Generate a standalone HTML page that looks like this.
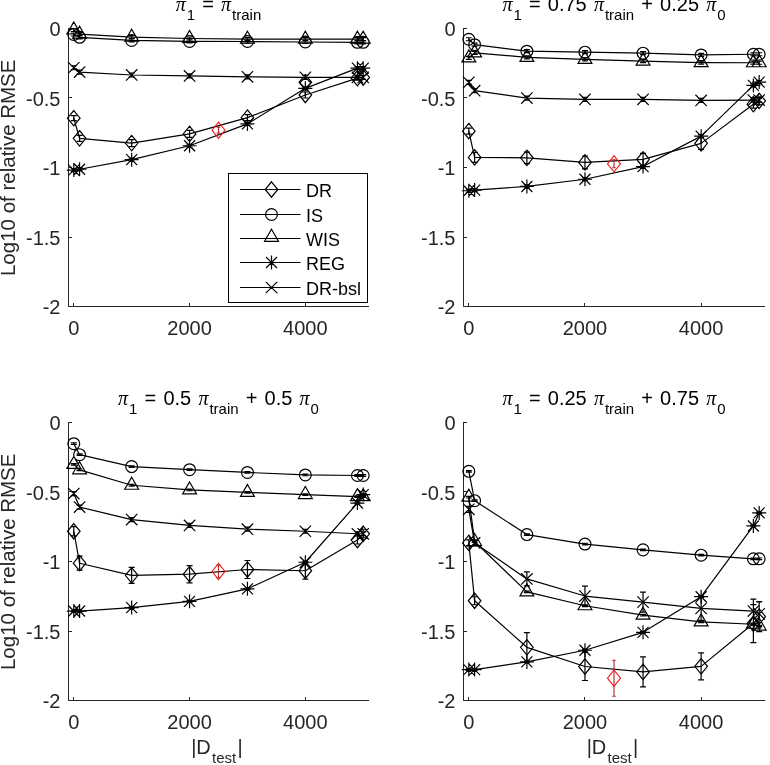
<!DOCTYPE html><html><head><meta charset="utf-8"><style>html,body{margin:0;padding:0;background:#fff;width:770px;height:765px;overflow:hidden}svg{display:block;will-change:transform}text{font-family:"Liberation Sans",sans-serif}</style></head><body>
<svg width="770" height="765" viewBox="0 0 770 765">
<rect width="770" height="765" fill="#fff"/>
<path d="M68.5 28V306.5H369" fill="none" stroke="#262626" stroke-width="1"/>
<path d="M68.5 28.5h3.5M68.5 97.5h3.5M68.5 167.5h3.5M68.5 237.5h3.5M68.5 306.5h3.5M73.5 306.5v-3.5M189.5 306.5v-3.5M305.5 306.5v-3.5" stroke="#262626" stroke-width="1" fill="none"/>
<text x="60.5" y="36.4" font-size="20" fill="#262626" text-anchor="end">0</text>
<text x="60.5" y="105.9" font-size="20" fill="#262626" text-anchor="end">-0.5</text>
<text x="60.5" y="175.4" font-size="20" fill="#262626" text-anchor="end">-1</text>
<text x="60.5" y="244.9" font-size="20" fill="#262626" text-anchor="end">-1.5</text>
<text x="60.5" y="314.4" font-size="20" fill="#262626" text-anchor="end">-2</text>
<text x="73.79" y="335" font-size="20" fill="#262626" text-anchor="middle">0</text>
<text x="189.56" y="335" font-size="20" fill="#262626" text-anchor="middle">2000</text>
<text x="305.33" y="335" font-size="20" fill="#262626" text-anchor="middle">4000</text>
<text x="218.5" y="11" font-size="20" fill="#000" text-anchor="middle" style="word-spacing:1.6px"><tspan font-family="Liberation Serif" font-style="italic" dy="0">π</tspan><tspan font-size="15" dx="1" dy="9.3">1</tspan><tspan dy="-9.3">&#160;=&#160;</tspan><tspan font-family="Liberation Serif" font-style="italic" dy="0">π</tspan><tspan font-size="15" dx="1" dy="9.3">train</tspan></text>
<text transform="translate(15.2 167.8) rotate(-90)" font-size="20.5" fill="#262626" text-anchor="middle">Log10 of relative RMSE</text>
<polyline points="73.79,34.51 79.58,37.3 131.67,40.4 189.56,41.4 247.44,41.5 305.33,42 357.42,42.3 363.21,42.3" fill="none" stroke="#000" stroke-width="1.2" stroke-linejoin="round"/>
<polyline points="73.79,30 79.58,34.2 131.67,37.2 189.56,38.49 247.44,39.2 305.33,39.2 357.42,39.2 363.21,39.2" fill="none" stroke="#000" stroke-width="1.2" stroke-linejoin="round"/>
<polyline points="73.79,170.06 79.58,169.22 131.67,159.63 189.56,145.73 247.44,123.91 305.33,88.33 357.42,68.17 363.21,68.17" fill="none" stroke="#000" stroke-width="1.2" stroke-linejoin="round"/>
<polyline points="73.79,67.75 79.58,72.06 131.67,74.98 189.56,75.95 247.44,76.79 305.33,77.34 357.42,77.34 363.21,77.34" fill="none" stroke="#000" stroke-width="1.2" stroke-linejoin="round"/>
<polyline points="73.79,118.21 79.58,138.37 131.67,143.09 189.56,133.92 247.44,117.66 305.33,95 357.42,78.18 363.21,77.48" fill="none" stroke="#000" stroke-width="1.2" stroke-linejoin="round"/>
<path d="M73.79 115.71V120.71M70.79 115.71H76.79M70.79 120.71H76.79M79.58 135.37V141.37M76.58 135.37H82.58M76.58 141.37H82.58M131.67 139.59V146.59M128.67 139.59H134.67M128.67 146.59H134.67M189.56 130.42V137.42M186.56 130.42H192.56M186.56 137.42H192.56M247.44 114.66V120.66M244.44 114.66H250.44M244.44 120.66H250.44M305.33 92V98M302.33 92H308.33M302.33 98H308.33M357.42 76.18V80.18M354.42 76.18H360.42M354.42 80.18H360.42M363.21 75.48V79.48M360.21 75.48H366.21M360.21 79.48H366.21M73.79 65.75V69.75M70.79 65.75H76.79M70.79 69.75H76.79M79.58 70.06V74.06M76.58 70.06H82.58M76.58 74.06H82.58M131.67 72.98V76.98M128.67 72.98H134.67M128.67 76.98H134.67M189.56 73.95V77.95M186.56 73.95H192.56M186.56 77.95H192.56M247.44 74.79V78.79M244.44 74.79H250.44M244.44 78.79H250.44M305.33 75.34V79.34M302.33 75.34H308.33M302.33 79.34H308.33M357.42 75.34V79.34M354.42 75.34H360.42M354.42 79.34H360.42M363.21 75.34V79.34M360.21 75.34H366.21M360.21 79.34H366.21M73.79 33.01V36.01M70.79 33.01H76.79M70.79 36.01H76.79M79.58 35.8V38.8M76.58 35.8H82.58M76.58 38.8H82.58M131.67 38.9V41.9M128.67 38.9H134.67M128.67 41.9H134.67M189.56 39.9V42.9M186.56 39.9H192.56M186.56 42.9H192.56M247.44 40V43M244.44 40H250.44M244.44 43H250.44M305.33 40.5V43.5M302.33 40.5H308.33M302.33 43.5H308.33M357.42 40.8V43.8M354.42 40.8H360.42M354.42 43.8H360.42M363.21 40.8V43.8M360.21 40.8H366.21M360.21 43.8H366.21M73.79 28.5V31.5M70.79 28.5H76.79M70.79 31.5H76.79M79.58 32.7V35.7M76.58 32.7H82.58M76.58 35.7H82.58M131.67 35.7V38.7M128.67 35.7H134.67M128.67 38.7H134.67M189.56 36.99V39.99M186.56 36.99H192.56M186.56 39.99H192.56M247.44 37.7V40.7M244.44 37.7H250.44M244.44 40.7H250.44M305.33 37.7V40.7M302.33 37.7H308.33M302.33 40.7H308.33M357.42 37.7V40.7M354.42 37.7H360.42M354.42 40.7H360.42M363.21 37.7V40.7M360.21 37.7H366.21M360.21 40.7H366.21M73.79 168.56V171.56M70.79 168.56H76.79M70.79 171.56H76.79M79.58 167.72V170.72M76.58 167.72H82.58M76.58 170.72H82.58M131.67 158.13V161.13M128.67 158.13H134.67M128.67 161.13H134.67M189.56 144.23V147.23M186.56 144.23H192.56M186.56 147.23H192.56M247.44 122.41V125.41M244.44 122.41H250.44M244.44 125.41H250.44M305.33 86.83V89.83M302.33 86.83H308.33M302.33 89.83H308.33M357.42 66.67V69.67M354.42 66.67H360.42M354.42 69.67H360.42M363.21 66.67V69.67M360.21 66.67H366.21M360.21 69.67H366.21" stroke="#000" stroke-width="1.2" fill="none"/>
<path d="M73.79 110.51L80.09 118.21L73.79 125.91L67.49 118.21ZM79.58 130.67L85.88 138.37L79.58 146.07L73.28 138.37ZM131.67 135.39L137.97 143.09L131.67 150.79L125.37 143.09ZM189.56 126.22L195.86 133.92L189.56 141.62L183.26 133.92ZM247.44 109.95L253.74 117.66L247.44 125.36L241.14 117.66ZM305.33 87.3L311.63 95L305.33 102.7L299.03 95ZM357.42 70.48L363.72 78.18L357.42 85.88L351.12 78.18ZM363.21 69.78L369.51 77.48L363.21 85.18L356.91 77.48ZM67.89 34.51a5.9 5.9 0 1 0 11.8 0a5.9 5.9 0 1 0 -11.8 0ZM73.68 37.3a5.9 5.9 0 1 0 11.8 0a5.9 5.9 0 1 0 -11.8 0ZM125.77 40.4a5.9 5.9 0 1 0 11.8 0a5.9 5.9 0 1 0 -11.8 0ZM183.66 41.4a5.9 5.9 0 1 0 11.8 0a5.9 5.9 0 1 0 -11.8 0ZM241.54 41.5a5.9 5.9 0 1 0 11.8 0a5.9 5.9 0 1 0 -11.8 0ZM299.43 42a5.9 5.9 0 1 0 11.8 0a5.9 5.9 0 1 0 -11.8 0ZM351.52 42.3a5.9 5.9 0 1 0 11.8 0a5.9 5.9 0 1 0 -11.8 0ZM357.31 42.3a5.9 5.9 0 1 0 11.8 0a5.9 5.9 0 1 0 -11.8 0ZM73.79 22L80.72 34L66.86 34ZM79.58 26.2L86.51 38.2L72.65 38.2ZM131.67 29.2L138.6 41.2L124.74 41.2ZM189.56 30.49L196.49 42.49L182.63 42.49ZM247.44 31.2L254.37 43.2L240.51 43.2ZM305.33 31.2L312.26 43.2L298.4 43.2ZM357.42 31.2L364.35 43.2L350.49 43.2ZM363.21 31.2L370.14 43.2L356.28 43.2ZM73.79 163.06V177.06M66.79 170.06H80.79M68.29 164.56L79.29 175.56M68.29 175.56L79.29 164.56M79.58 162.22V176.22M72.58 169.22H86.58M74.08 163.72L85.08 174.72M74.08 174.72L85.08 163.72M131.67 152.63V166.63M124.67 159.63H138.67M126.17 154.13L137.17 165.13M126.17 165.13L137.17 154.13M189.56 138.73V152.73M182.56 145.73H196.56M184.06 140.23L195.06 151.23M184.06 151.23L195.06 140.23M247.44 116.91V130.91M240.44 123.91H254.44M241.94 118.41L252.94 129.41M241.94 129.41L252.94 118.41M305.33 81.33V95.33M298.33 88.33H312.33M299.83 82.83L310.83 93.83M299.83 93.83L310.83 82.83M357.42 61.17V75.17M350.42 68.17H364.42M351.92 62.67L362.92 73.67M351.92 73.67L362.92 62.67M363.21 61.17V75.17M356.21 68.17H370.21M357.71 62.67L368.71 73.67M357.71 73.67L368.71 62.67M68.09 62.05L79.49 73.45M68.09 73.45L79.49 62.05M73.88 66.36L85.28 77.76M73.88 77.76L85.28 66.36M125.97 69.28L137.37 80.68M125.97 80.68L137.37 69.28M183.86 70.25L195.26 81.66M183.86 81.66L195.26 70.25M241.74 71.09L253.14 82.49M241.74 82.49L253.14 71.09M299.63 71.64L311.03 83.05M299.63 83.05L311.03 71.64M351.72 71.64L363.12 83.05M351.72 83.05L363.12 71.64M357.51 71.64L368.91 83.05M357.51 83.05L368.91 71.64M305.33 74.51L311.63 82.21L305.33 89.91L299.03 82.21Z" stroke="#000" stroke-width="1.2" fill="none"/>
<path d="M218.5 127.16V133.16M216.7 127.16H220.3M216.7 133.16H220.3" stroke="#b4262e" stroke-width="1.1" fill="none"/>
<path d="M218.5 122.06L225 130.16L218.5 138.26L212 130.16Z" stroke="#ec1c1c" stroke-width="1.1" fill="none"/>
<path d="M463.5 28V306.5H765" fill="none" stroke="#262626" stroke-width="1"/>
<path d="M463.5 28.5h3.5M463.5 97.5h3.5M463.5 167.5h3.5M463.5 237.5h3.5M463.5 306.5h3.5M468.5 306.5v-3.5M584.5 306.5v-3.5M701.5 306.5v-3.5" stroke="#262626" stroke-width="1" fill="none"/>
<text x="455.5" y="36.4" font-size="20" fill="#262626" text-anchor="end">0</text>
<text x="455.5" y="105.9" font-size="20" fill="#262626" text-anchor="end">-0.5</text>
<text x="455.5" y="175.4" font-size="20" fill="#262626" text-anchor="end">-1</text>
<text x="455.5" y="244.9" font-size="20" fill="#262626" text-anchor="end">-1.5</text>
<text x="455.5" y="314.4" font-size="20" fill="#262626" text-anchor="end">-2</text>
<text x="468.81" y="335" font-size="20" fill="#262626" text-anchor="middle">0</text>
<text x="584.96" y="335" font-size="20" fill="#262626" text-anchor="middle">2000</text>
<text x="701.12" y="335" font-size="20" fill="#262626" text-anchor="middle">4000</text>
<text x="614" y="11" font-size="20" fill="#000" text-anchor="middle" style="word-spacing:1.6px"><tspan font-family="Liberation Serif" font-style="italic" dy="0">π</tspan><tspan font-size="15" dx="1" dy="9.3">1</tspan><tspan dy="-9.3">&#160;=&#160;0.75&#160;</tspan><tspan font-family="Liberation Serif" font-style="italic" dy="0">π</tspan><tspan font-size="15" dx="1" dy="9.3">train</tspan><tspan dy="-9.3">&#160;+&#160;0.25&#160;</tspan><tspan font-family="Liberation Serif" font-style="italic" dy="0">π</tspan><tspan font-size="15" dx="1" dy="9.3">0</tspan></text>
<polyline points="468.81,39.26 474.62,44.68 526.88,51.21 584.96,52.19 643.04,53.16 701.12,54.97 753.38,54.27 759.19,54.27" fill="none" stroke="#000" stroke-width="1.2" stroke-linejoin="round"/>
<polyline points="468.81,57.88 474.62,52.88 526.88,57.33 584.96,59.41 643.04,61.22 701.12,62.61 753.38,62.75 759.19,62.75" fill="none" stroke="#000" stroke-width="1.2" stroke-linejoin="round"/>
<polyline points="468.81,190.77 474.62,190.07 526.88,186.46 584.96,179.23 643.04,166.58 701.12,136.14 753.38,85.41 759.19,82.07" fill="none" stroke="#000" stroke-width="1.2" stroke-linejoin="round"/>
<polyline points="468.81,82.35 474.62,90.69 526.88,98.06 584.96,99.45 643.04,99.31 701.12,100.42 753.38,100.14 759.19,100.14" fill="none" stroke="#000" stroke-width="1.2" stroke-linejoin="round"/>
<polyline points="468.81,131.14 474.62,157.41 526.88,157.83 584.96,162.41 643.04,159.35 701.12,143.37 753.38,104.17 759.19,100.84" fill="none" stroke="#000" stroke-width="1.2" stroke-linejoin="round"/>
<path d="M468.81 128.14V134.14M465.81 128.14H471.81M465.81 134.14H471.81M474.62 152.41V162.41M471.62 152.41H477.62M471.62 162.41H477.62M526.88 152.03V163.63M523.88 152.03H529.88M523.88 163.63H529.88M584.96 156.01V168.81M581.96 156.01H587.96M581.96 168.81H587.96M643.04 153.35V165.35M640.04 153.35H646.04M640.04 165.35H646.04M701.12 137.37V149.37M698.12 137.37H704.12M698.12 149.37H704.12M753.38 100.17V108.17M750.38 100.17H756.38M750.38 108.17H756.38M759.19 96.84V104.84M756.19 96.84H762.19M756.19 104.84H762.19M468.81 80.35V84.35M465.81 80.35H471.81M465.81 84.35H471.81M474.62 88.69V92.69M471.62 88.69H477.62M471.62 92.69H477.62M526.88 96.06V100.06M523.88 96.06H529.88M523.88 100.06H529.88M584.96 97.45V101.45M581.96 97.45H587.96M581.96 101.45H587.96M643.04 97.31V101.31M640.04 97.31H646.04M640.04 101.31H646.04M701.12 98.42V102.42M698.12 98.42H704.12M698.12 102.42H704.12M753.38 98.14V102.14M750.38 98.14H756.38M750.38 102.14H756.38M759.19 98.14V102.14M756.19 98.14H762.19M756.19 102.14H762.19M468.81 37.76V40.76M465.81 37.76H471.81M465.81 40.76H471.81M474.62 43.18V46.18M471.62 43.18H477.62M471.62 46.18H477.62M526.88 49.71V52.71M523.88 49.71H529.88M523.88 52.71H529.88M584.96 50.69V53.69M581.96 50.69H587.96M581.96 53.69H587.96M643.04 51.66V54.66M640.04 51.66H646.04M640.04 54.66H646.04M701.12 53.47V56.47M698.12 53.47H704.12M698.12 56.47H704.12M753.38 52.77V55.77M750.38 52.77H756.38M750.38 55.77H756.38M759.19 52.77V55.77M756.19 52.77H762.19M756.19 55.77H762.19M468.81 56.38V59.38M465.81 56.38H471.81M465.81 59.38H471.81M474.62 51.38V54.38M471.62 51.38H477.62M471.62 54.38H477.62M526.88 55.83V58.83M523.88 55.83H529.88M523.88 58.83H529.88M584.96 57.91V60.91M581.96 57.91H587.96M581.96 60.91H587.96M643.04 59.72V62.72M640.04 59.72H646.04M640.04 62.72H646.04M701.12 61.11V64.11M698.12 61.11H704.12M698.12 64.11H704.12M753.38 61.25V64.25M750.38 61.25H756.38M750.38 64.25H756.38M759.19 61.25V64.25M756.19 61.25H762.19M756.19 64.25H762.19M468.81 189.27V192.27M465.81 189.27H471.81M465.81 192.27H471.81M474.62 188.57V191.57M471.62 188.57H477.62M471.62 191.57H477.62M526.88 184.96V187.96M523.88 184.96H529.88M523.88 187.96H529.88M584.96 177.73V180.73M581.96 177.73H587.96M581.96 180.73H587.96M643.04 165.08V168.08M640.04 165.08H646.04M640.04 168.08H646.04M701.12 134.64V137.64M698.12 134.64H704.12M698.12 137.64H704.12M753.38 83.91V86.91M750.38 83.91H756.38M750.38 86.91H756.38M759.19 80.57V83.57M756.19 80.57H762.19M756.19 83.57H762.19" stroke="#000" stroke-width="1.2" fill="none"/>
<path d="M468.81 123.44L475.11 131.14L468.81 138.84L462.51 131.14ZM474.62 149.71L480.92 157.41L474.62 165.11L468.32 157.41ZM526.88 150.13L533.18 157.83L526.88 165.53L520.58 157.83ZM584.96 154.71L591.26 162.41L584.96 170.11L578.66 162.41ZM643.04 151.66L649.34 159.35L643.04 167.05L636.74 159.35ZM701.12 135.67L707.42 143.37L701.12 151.07L694.82 143.37ZM753.38 96.47L759.68 104.17L753.38 111.87L747.08 104.17ZM759.19 93.14L765.49 100.84L759.19 108.54L752.89 100.84ZM462.91 39.26a5.9 5.9 0 1 0 11.8 0a5.9 5.9 0 1 0 -11.8 0ZM468.72 44.68a5.9 5.9 0 1 0 11.8 0a5.9 5.9 0 1 0 -11.8 0ZM520.98 51.21a5.9 5.9 0 1 0 11.8 0a5.9 5.9 0 1 0 -11.8 0ZM579.06 52.19a5.9 5.9 0 1 0 11.8 0a5.9 5.9 0 1 0 -11.8 0ZM637.14 53.16a5.9 5.9 0 1 0 11.8 0a5.9 5.9 0 1 0 -11.8 0ZM695.22 54.97a5.9 5.9 0 1 0 11.8 0a5.9 5.9 0 1 0 -11.8 0ZM747.48 54.27a5.9 5.9 0 1 0 11.8 0a5.9 5.9 0 1 0 -11.8 0ZM753.29 54.27a5.9 5.9 0 1 0 11.8 0a5.9 5.9 0 1 0 -11.8 0ZM468.81 49.88L475.74 61.88L461.88 61.88ZM474.62 44.88L481.54 56.88L467.69 56.88ZM526.88 49.33L533.81 61.33L519.96 61.33ZM584.96 51.41L591.89 63.41L578.03 63.41ZM643.04 53.22L649.97 65.22L636.11 65.22ZM701.12 54.61L708.04 66.61L694.19 66.61ZM753.38 54.75L760.31 66.75L746.46 66.75ZM759.19 54.75L766.12 66.75L752.26 66.75ZM468.81 183.77V197.77M461.81 190.77H475.81M463.31 185.27L474.31 196.27M463.31 196.27L474.31 185.27M474.62 183.07V197.07M467.62 190.07H481.62M469.12 184.57L480.12 195.57M469.12 195.57L480.12 184.57M526.88 179.46V193.46M519.88 186.46H533.88M521.38 180.96L532.38 191.96M521.38 191.96L532.38 180.96M584.96 172.23V186.23M577.96 179.23H591.96M579.46 173.73L590.46 184.73M579.46 184.73L590.46 173.73M643.04 159.58V173.58M636.04 166.58H650.04M637.54 161.08L648.54 172.08M637.54 172.08L648.54 161.08M701.12 129.14V143.14M694.12 136.14H708.12M695.62 130.64L706.62 141.64M695.62 141.64L706.62 130.64M753.38 78.41V92.41M746.38 85.41H760.38M747.88 79.91L758.88 90.91M747.88 90.91L758.88 79.91M759.19 75.07V89.07M752.19 82.07H766.19M753.69 76.57L764.69 87.57M753.69 87.57L764.69 76.57M463.11 76.65L474.51 88.05M463.11 88.05L474.51 76.65M468.92 84.99L480.32 96.39M468.92 96.39L480.32 84.99M521.18 92.36L532.58 103.76M521.18 103.76L532.58 92.36M579.26 93.75L590.66 105.15M579.26 105.15L590.66 93.75M637.34 93.61L648.74 105.01M637.34 105.01L648.74 93.61M695.42 94.72L706.82 106.12M695.42 106.12L706.82 94.72M747.68 94.44L759.08 105.84M747.68 105.84L759.08 94.44M753.49 94.44L764.89 105.84M753.49 105.84L764.89 94.44" stroke="#000" stroke-width="1.2" fill="none"/>
<path d="M614 159.8V167.8M612.2 159.8H615.8M612.2 167.8H615.8" stroke="#b4262e" stroke-width="1.1" fill="none"/>
<path d="M614 155.7L620.5 163.8L614 171.9L607.5 163.8Z" stroke="#ec1c1c" stroke-width="1.1" fill="none"/>
<path d="M68.5 422V700.5H369" fill="none" stroke="#262626" stroke-width="1"/>
<path d="M68.5 422.5h3.5M68.5 491.5h3.5M68.5 561.5h3.5M68.5 631.5h3.5M68.5 700.5h3.5M73.5 700.5v-3.5M189.5 700.5v-3.5M305.5 700.5v-3.5" stroke="#262626" stroke-width="1" fill="none"/>
<text x="60.5" y="430.4" font-size="20" fill="#262626" text-anchor="end">0</text>
<text x="60.5" y="499.9" font-size="20" fill="#262626" text-anchor="end">-0.5</text>
<text x="60.5" y="569.4" font-size="20" fill="#262626" text-anchor="end">-1</text>
<text x="60.5" y="638.9" font-size="20" fill="#262626" text-anchor="end">-1.5</text>
<text x="60.5" y="708.4" font-size="20" fill="#262626" text-anchor="end">-2</text>
<text x="73.79" y="729" font-size="20" fill="#262626" text-anchor="middle">0</text>
<text x="189.56" y="729" font-size="20" fill="#262626" text-anchor="middle">2000</text>
<text x="305.33" y="729" font-size="20" fill="#262626" text-anchor="middle">4000</text>
<text x="218.5" y="405" font-size="20" fill="#000" text-anchor="middle" style="word-spacing:1.6px"><tspan font-family="Liberation Serif" font-style="italic" dy="0">π</tspan><tspan font-size="15" dx="1" dy="9.3">1</tspan><tspan dy="-9.3">&#160;=&#160;0.5&#160;</tspan><tspan font-family="Liberation Serif" font-style="italic" dy="0">π</tspan><tspan font-size="15" dx="1" dy="9.3">train</tspan><tspan dy="-9.3">&#160;+&#160;0.5&#160;</tspan><tspan font-family="Liberation Serif" font-style="italic" dy="0">π</tspan><tspan font-size="15" dx="1" dy="9.3">0</tspan></text>
<text transform="translate(15.2 561.8) rotate(-90)" font-size="20.5" fill="#262626" text-anchor="middle">Log10 of relative RMSE</text>
<text y="754" font-size="20" fill="#262626"><tspan x="191.2">|</tspan><tspan x="196.2">D</tspan><tspan x="212" font-size="15" dy="9.3">test</tspan><tspan x="237.6" dy="-9.3">|</tspan></text>
<polyline points="73.79,443.68 79.58,454.67 131.67,466.62 189.56,469.68 247.44,472.46 305.33,474.96 357.42,475.51 363.21,475.51" fill="none" stroke="#000" stroke-width="1.2" stroke-linejoin="round"/>
<polyline points="73.79,464.39 79.58,469.82 131.67,485.25 189.56,489.97 247.44,492.47 305.33,494.56 357.42,496.64 363.21,496.64" fill="none" stroke="#000" stroke-width="1.2" stroke-linejoin="round"/>
<polyline points="73.79,611.04 79.58,611.04 131.67,607.57 189.56,601.31 247.44,588.8 305.33,562.25 357.42,503.04 363.21,494.56" fill="none" stroke="#000" stroke-width="1.2" stroke-linejoin="round"/>
<polyline points="73.79,493.59 79.58,507.07 131.67,519.58 189.56,525.42 247.44,529.17 305.33,531.25 357.42,533.76 363.21,533.76" fill="none" stroke="#000" stroke-width="1.2" stroke-linejoin="round"/>
<polyline points="73.79,531.25 79.58,563.22 131.67,575.32 189.56,574.2 247.44,569.48 305.33,570.73 357.42,540.01 363.21,533.76" fill="none" stroke="#000" stroke-width="1.2" stroke-linejoin="round"/>
<path d="M73.79 526.55V535.95M70.79 526.55H76.79M70.79 535.95H76.79M79.58 556.22V570.22M76.58 556.22H82.58M76.58 570.22H82.58M131.67 567.32V583.32M128.67 567.32H134.67M128.67 583.32H134.67M189.56 565.6V582.8M186.56 565.6H192.56M186.56 582.8H192.56M247.44 560.48V578.48M244.44 560.48H250.44M244.44 578.48H250.44M305.33 562.43V579.03M302.33 562.43H308.33M302.33 579.03H308.33M357.42 536.01V544.01M354.42 536.01H360.42M354.42 544.01H360.42M363.21 529.76V537.76M360.21 529.76H366.21M360.21 537.76H366.21M73.79 491.59V495.59M70.79 491.59H76.79M70.79 495.59H76.79M79.58 505.07V509.07M76.58 505.07H82.58M76.58 509.07H82.58M131.67 517.58V521.58M128.67 517.58H134.67M128.67 521.58H134.67M189.56 523.42V527.42M186.56 523.42H192.56M186.56 527.42H192.56M247.44 527.17V531.17M244.44 527.17H250.44M244.44 531.17H250.44M305.33 529.25V533.25M302.33 529.25H308.33M302.33 533.25H308.33M357.42 531.76V535.76M354.42 531.76H360.42M354.42 535.76H360.42M363.21 531.76V535.76M360.21 531.76H366.21M360.21 535.76H366.21M73.79 442.88V444.48M70.79 442.88H76.79M70.79 444.48H76.79M79.58 453.87V455.47M76.58 453.87H82.58M76.58 455.47H82.58M131.67 465.82V467.42M128.67 465.82H134.67M128.67 467.42H134.67M189.56 468.88V470.48M186.56 468.88H192.56M186.56 470.48H192.56M247.44 471.66V473.26M244.44 471.66H250.44M244.44 473.26H250.44M305.33 474.16V475.76M302.33 474.16H308.33M302.33 475.76H308.33M357.42 474.71V476.31M354.42 474.71H360.42M354.42 476.31H360.42M363.21 474.71V476.31M360.21 474.71H366.21M360.21 476.31H366.21M73.79 463.59V465.19M70.79 463.59H76.79M70.79 465.19H76.79M79.58 469.02V470.62M76.58 469.02H82.58M76.58 470.62H82.58M131.67 484.44V486.05M128.67 484.44H134.67M128.67 486.05H134.67M189.56 489.17V490.77M186.56 489.17H192.56M186.56 490.77H192.56M247.44 491.67V493.27M244.44 491.67H250.44M244.44 493.27H250.44M305.33 493.76V495.36M302.33 493.76H308.33M302.33 495.36H308.33M357.42 495.84V497.44M354.42 495.84H360.42M354.42 497.44H360.42M363.21 495.84V497.44M360.21 495.84H366.21M360.21 497.44H366.21M73.79 610.24V611.84M70.79 610.24H76.79M70.79 611.84H76.79M79.58 610.24V611.84M76.58 610.24H82.58M76.58 611.84H82.58M131.67 606.77V608.37M128.67 606.77H134.67M128.67 608.37H134.67M189.56 600.51V602.11M186.56 600.51H192.56M186.56 602.11H192.56M247.44 588V589.6M244.44 588H250.44M244.44 589.6H250.44M305.33 561.45V563.05M302.33 561.45H308.33M302.33 563.05H308.33M357.42 502.24V503.84M354.42 502.24H360.42M354.42 503.84H360.42M363.21 493.76V495.36M360.21 493.76H366.21M360.21 495.36H366.21" stroke="#000" stroke-width="1.2" fill="none"/>
<path d="M73.79 523.55L80.09 531.25L73.79 538.95L67.49 531.25ZM79.58 555.52L85.88 563.22L79.58 570.92L73.28 563.22ZM131.67 567.62L137.97 575.32L131.67 583.02L125.37 575.32ZM189.56 566.5L195.86 574.2L189.56 581.9L183.26 574.2ZM247.44 561.78L253.74 569.48L247.44 577.18L241.14 569.48ZM305.33 563.03L311.63 570.73L305.33 578.43L299.03 570.73ZM357.42 532.31L363.72 540.01L357.42 547.71L351.12 540.01ZM363.21 526.06L369.51 533.76L363.21 541.46L356.91 533.76ZM67.89 443.68a5.9 5.9 0 1 0 11.8 0a5.9 5.9 0 1 0 -11.8 0ZM73.68 454.67a5.9 5.9 0 1 0 11.8 0a5.9 5.9 0 1 0 -11.8 0ZM125.77 466.62a5.9 5.9 0 1 0 11.8 0a5.9 5.9 0 1 0 -11.8 0ZM183.66 469.68a5.9 5.9 0 1 0 11.8 0a5.9 5.9 0 1 0 -11.8 0ZM241.54 472.46a5.9 5.9 0 1 0 11.8 0a5.9 5.9 0 1 0 -11.8 0ZM299.43 474.96a5.9 5.9 0 1 0 11.8 0a5.9 5.9 0 1 0 -11.8 0ZM351.52 475.51a5.9 5.9 0 1 0 11.8 0a5.9 5.9 0 1 0 -11.8 0ZM357.31 475.51a5.9 5.9 0 1 0 11.8 0a5.9 5.9 0 1 0 -11.8 0ZM73.79 456.39L80.72 468.39L66.86 468.39ZM79.58 461.82L86.51 473.82L72.65 473.82ZM131.67 477.25L138.6 489.25L124.74 489.25ZM189.56 481.97L196.49 493.97L182.63 493.97ZM247.44 484.47L254.37 496.47L240.51 496.47ZM305.33 486.56L312.26 498.56L298.4 498.56ZM357.42 488.64L364.35 500.64L350.49 500.64ZM363.21 488.64L370.14 500.64L356.28 500.64ZM73.79 604.04V618.04M66.79 611.04H80.79M68.29 605.54L79.29 616.54M68.29 616.54L79.29 605.54M79.58 604.04V618.04M72.58 611.04H86.58M74.08 605.54L85.08 616.54M74.08 616.54L85.08 605.54M131.67 600.57V614.57M124.67 607.57H138.67M126.17 602.07L137.17 613.07M126.17 613.07L137.17 602.07M189.56 594.31V608.31M182.56 601.31H196.56M184.06 595.81L195.06 606.81M184.06 606.81L195.06 595.81M247.44 581.8V595.8M240.44 588.8H254.44M241.94 583.3L252.94 594.3M241.94 594.3L252.94 583.3M305.33 555.25V569.25M298.33 562.25H312.33M299.83 556.75L310.83 567.75M299.83 567.75L310.83 556.75M357.42 496.04V510.04M350.42 503.04H364.42M351.92 497.54L362.92 508.54M351.92 508.54L362.92 497.54M363.21 487.56V501.56M356.21 494.56H370.21M357.71 489.06L368.71 500.06M357.71 500.06L368.71 489.06M68.09 487.89L79.49 499.29M68.09 499.29L79.49 487.89M73.88 501.37L85.28 512.77M73.88 512.77L85.28 501.37M125.97 513.88L137.37 525.28M125.97 525.28L137.37 513.88M183.86 519.72L195.26 531.12M183.86 531.12L195.26 519.72M241.74 523.47L253.14 534.87M241.74 534.87L253.14 523.47M299.63 525.55L311.03 536.95M299.63 536.95L311.03 525.55M351.72 528.06L363.12 539.46M351.72 539.46L363.12 528.06M357.51 528.06L368.91 539.46M357.51 539.46L368.91 528.06" stroke="#000" stroke-width="1.2" fill="none"/>
<path d="M218.5 565.12V577.72M216.7 565.12H220.3M216.7 577.72H220.3" stroke="#b4262e" stroke-width="1.1" fill="none"/>
<path d="M218.5 563.32L225 571.42L218.5 579.52L212 571.42Z" stroke="#ec1c1c" stroke-width="1.1" fill="none"/>
<path d="M463.5 422V700.5H765" fill="none" stroke="#262626" stroke-width="1"/>
<path d="M463.5 422.5h3.5M463.5 491.5h3.5M463.5 561.5h3.5M463.5 631.5h3.5M463.5 700.5h3.5M468.5 700.5v-3.5M584.5 700.5v-3.5M701.5 700.5v-3.5" stroke="#262626" stroke-width="1" fill="none"/>
<text x="455.5" y="430.4" font-size="20" fill="#262626" text-anchor="end">0</text>
<text x="455.5" y="499.9" font-size="20" fill="#262626" text-anchor="end">-0.5</text>
<text x="455.5" y="569.4" font-size="20" fill="#262626" text-anchor="end">-1</text>
<text x="455.5" y="638.9" font-size="20" fill="#262626" text-anchor="end">-1.5</text>
<text x="455.5" y="708.4" font-size="20" fill="#262626" text-anchor="end">-2</text>
<text x="468.81" y="729" font-size="20" fill="#262626" text-anchor="middle">0</text>
<text x="584.96" y="729" font-size="20" fill="#262626" text-anchor="middle">2000</text>
<text x="701.12" y="729" font-size="20" fill="#262626" text-anchor="middle">4000</text>
<text x="614" y="405" font-size="20" fill="#000" text-anchor="middle" style="word-spacing:1.6px"><tspan font-family="Liberation Serif" font-style="italic" dy="0">π</tspan><tspan font-size="15" dx="1" dy="9.3">1</tspan><tspan dy="-9.3">&#160;=&#160;0.25&#160;</tspan><tspan font-family="Liberation Serif" font-style="italic" dy="0">π</tspan><tspan font-size="15" dx="1" dy="9.3">train</tspan><tspan dy="-9.3">&#160;+&#160;0.75&#160;</tspan><tspan font-family="Liberation Serif" font-style="italic" dy="0">π</tspan><tspan font-size="15" dx="1" dy="9.3">0</tspan></text>
<text y="754" font-size="20" fill="#262626"><tspan x="586.7">|</tspan><tspan x="591.7">D</tspan><tspan x="607.5" font-size="15" dy="9.3">test</tspan><tspan x="633.1" dy="-9.3">|</tspan></text>
<polyline points="468.81,471.35 474.62,500.67 526.88,534.59 584.96,544.04 643.04,549.88 701.12,555.16 753.38,558.78 759.19,558.78" fill="none" stroke="#000" stroke-width="1.2" stroke-linejoin="round"/>
<polyline points="468.81,497.2 474.62,541.54 526.88,591.86 584.96,605.76 643.04,615.21 701.12,621.88 753.38,624.25 759.19,626.05" fill="none" stroke="#000" stroke-width="1.2" stroke-linejoin="round"/>
<polyline points="468.81,669.56 474.62,669.56 526.88,661.91 584.96,650.24 643.04,632.31 701.12,596.72 753.38,525.97 759.19,512.91" fill="none" stroke="#000" stroke-width="1.2" stroke-linejoin="round"/>
<polyline points="468.81,509.29 474.62,542.93 526.88,578.93 584.96,596.03 643.04,602.14 701.12,608.4 753.38,611.04 759.19,613.82" fill="none" stroke="#000" stroke-width="1.2" stroke-linejoin="round"/>
<polyline points="468.81,542.93 474.62,600.75 526.88,647.32 584.96,666.5 643.04,671.92 701.12,666.36 753.38,623.55 759.19,616.6" fill="none" stroke="#000" stroke-width="1.2" stroke-linejoin="round"/>
<path d="M468.81 539.93V545.93M465.81 539.93H471.81M465.81 545.93H471.81M474.62 596.75V604.75M471.62 596.75H477.62M471.62 604.75H477.62M526.88 632.72V661.92M523.88 632.72H529.88M523.88 661.92H529.88M584.96 652.5V680.5M581.96 652.5H587.96M581.96 680.5H587.96M643.04 656.92V686.92M640.04 656.92H646.04M640.04 686.92H646.04M701.12 652.86V679.86M698.12 652.86H704.12M698.12 679.86H704.12M753.38 604.55V642.55M750.38 604.55H756.38M750.38 642.55H756.38M759.19 601.6V631.6M756.19 601.6H762.19M756.19 631.6H762.19M468.81 506.29V512.29M465.81 506.29H471.81M465.81 512.29H471.81M474.62 539.93V545.93M471.62 539.93H477.62M471.62 545.93H477.62M526.88 571.93V585.93M523.88 571.93H529.88M523.88 585.93H529.88M584.96 586.03V606.03M581.96 586.03H587.96M581.96 606.03H587.96M643.04 592.14V612.14M640.04 592.14H646.04M640.04 612.14H646.04M701.12 596.4V620.4M698.12 596.4H704.12M698.12 620.4H704.12M753.38 599.04V623.04M750.38 599.04H756.38M750.38 623.04H756.38M759.19 601.82V625.82M756.19 601.82H762.19M756.19 625.82H762.19M468.81 470.55V472.15M465.81 470.55H471.81M465.81 472.15H471.81M474.62 499.87V501.47M471.62 499.87H477.62M471.62 501.47H477.62M526.88 533.79V535.39M523.88 533.79H529.88M523.88 535.39H529.88M584.96 543.24V544.84M581.96 543.24H587.96M581.96 544.84H587.96M643.04 549.08V550.68M640.04 549.08H646.04M640.04 550.68H646.04M701.12 554.36V555.96M698.12 554.36H704.12M698.12 555.96H704.12M753.38 557.98V559.58M750.38 557.98H756.38M750.38 559.58H756.38M759.19 557.98V559.58M756.19 557.98H762.19M756.19 559.58H762.19M468.81 496.4V498M465.81 496.4H471.81M465.81 498H471.81M474.62 540.74V542.34M471.62 540.74H477.62M471.62 542.34H477.62M526.88 591.06V592.66M523.88 591.06H529.88M523.88 592.66H529.88M584.96 604.96V606.56M581.96 604.96H587.96M581.96 606.56H587.96M643.04 614.41V616.01M640.04 614.41H646.04M640.04 616.01H646.04M701.12 621.08V622.68M698.12 621.08H704.12M698.12 622.68H704.12M753.38 623.45V625.04M750.38 623.45H756.38M750.38 625.04H756.38M759.19 625.25V626.85M756.19 625.25H762.19M756.19 626.85H762.19M468.81 668.76V670.36M465.81 668.76H471.81M465.81 670.36H471.81M474.62 668.76V670.36M471.62 668.76H477.62M471.62 670.36H477.62M526.88 661.11V662.71M523.88 661.11H529.88M523.88 662.71H529.88M584.96 649.44V651.04M581.96 649.44H587.96M581.96 651.04H587.96M643.04 631.51V633.11M640.04 631.51H646.04M640.04 633.11H646.04M701.12 595.92V597.52M698.12 595.92H704.12M698.12 597.52H704.12M753.38 525.17V526.77M750.38 525.17H756.38M750.38 526.77H756.38M759.19 512.11V513.71M756.19 512.11H762.19M756.19 513.71H762.19" stroke="#000" stroke-width="1.2" fill="none"/>
<path d="M468.81 535.23L475.11 542.93L468.81 550.63L462.51 542.93ZM474.62 593.05L480.92 600.75L474.62 608.45L468.32 600.75ZM526.88 639.62L533.18 647.32L526.88 655.02L520.58 647.32ZM584.96 658.8L591.26 666.5L584.96 674.2L578.66 666.5ZM643.04 664.22L649.34 671.92L643.04 679.62L636.74 671.92ZM701.12 658.66L707.42 666.36L701.12 674.06L694.82 666.36ZM753.38 615.85L759.68 623.55L753.38 631.25L747.08 623.55ZM759.19 608.9L765.49 616.6L759.19 624.3L752.89 616.6ZM462.91 471.35a5.9 5.9 0 1 0 11.8 0a5.9 5.9 0 1 0 -11.8 0ZM468.72 500.67a5.9 5.9 0 1 0 11.8 0a5.9 5.9 0 1 0 -11.8 0ZM520.98 534.59a5.9 5.9 0 1 0 11.8 0a5.9 5.9 0 1 0 -11.8 0ZM579.06 544.04a5.9 5.9 0 1 0 11.8 0a5.9 5.9 0 1 0 -11.8 0ZM637.14 549.88a5.9 5.9 0 1 0 11.8 0a5.9 5.9 0 1 0 -11.8 0ZM695.22 555.16a5.9 5.9 0 1 0 11.8 0a5.9 5.9 0 1 0 -11.8 0ZM747.48 558.78a5.9 5.9 0 1 0 11.8 0a5.9 5.9 0 1 0 -11.8 0ZM753.29 558.78a5.9 5.9 0 1 0 11.8 0a5.9 5.9 0 1 0 -11.8 0ZM468.81 489.2L475.74 501.2L461.88 501.2ZM474.62 533.54L481.54 545.54L467.69 545.54ZM526.88 583.86L533.81 595.86L519.96 595.86ZM584.96 597.76L591.89 609.76L578.03 609.76ZM643.04 607.21L649.97 619.21L636.11 619.21ZM701.12 613.88L708.04 625.88L694.19 625.88ZM753.38 616.25L760.31 628.25L746.46 628.25ZM759.19 618.05L766.12 630.05L752.26 630.05ZM468.81 662.56V676.56M461.81 669.56H475.81M463.31 664.06L474.31 675.06M463.31 675.06L474.31 664.06M474.62 662.56V676.56M467.62 669.56H481.62M469.12 664.06L480.12 675.06M469.12 675.06L480.12 664.06M526.88 654.91V668.91M519.88 661.91H533.88M521.38 656.41L532.38 667.41M521.38 667.41L532.38 656.41M584.96 643.24V657.24M577.96 650.24H591.96M579.46 644.74L590.46 655.74M579.46 655.74L590.46 644.74M643.04 625.31V639.31M636.04 632.31H650.04M637.54 626.81L648.54 637.81M637.54 637.81L648.54 626.81M701.12 589.72V603.72M694.12 596.72H708.12M695.62 591.22L706.62 602.22M695.62 602.22L706.62 591.22M753.38 518.97V532.97M746.38 525.97H760.38M747.88 520.47L758.88 531.47M747.88 531.47L758.88 520.47M759.19 505.91V519.91M752.19 512.91H766.19M753.69 507.41L764.69 518.41M753.69 518.41L764.69 507.41M463.11 503.59L474.51 514.99M463.11 514.99L474.51 503.59M468.92 537.23L480.32 548.63M468.92 548.63L480.32 537.23M521.18 573.23L532.58 584.63M521.18 584.63L532.58 573.23M579.26 590.33L590.66 601.73M579.26 601.73L590.66 590.33M637.34 596.44L648.74 607.84M637.34 607.84L648.74 596.44M695.42 602.7L706.82 614.1M695.42 614.1L706.82 602.7M747.68 605.34L759.08 616.74M747.68 616.74L759.08 605.34M753.49 608.12L764.89 619.52M753.49 619.52L764.89 608.12" stroke="#000" stroke-width="1.2" fill="none"/>
<path d="M614 660.18V696.18M612.2 660.18H615.8M612.2 696.18H615.8" stroke="#b4262e" stroke-width="1.1" fill="none"/>
<path d="M614 670.08L620.5 678.18L614 686.28L607.5 678.18Z" stroke="#ec1c1c" stroke-width="1.1" fill="none"/>
<rect x="228.5" y="173.5" width="139.0" height="129.0" fill="#fff" stroke="#000" stroke-width="1"/>
<path d="M240 189.5H300.5M271.5 181.8L277.8 189.5L271.5 197.2L265.2 189.5ZM240 214.5H300.5M265.6 214.5a5.9 5.9 0 1 0 11.8 0a5.9 5.9 0 1 0 -11.8 0ZM240 238.5H300.5M271.5 229.3L278.43 241.3L264.57 241.3ZM240 262.5H300.5M271.5 255.5V269.5M264.5 262.5H278.5M266 257L277 268M266 268L277 257M240 287.5H300.5M265.8 281.8L277.2 293.2M265.8 293.2L277.2 281.8" stroke="#000" stroke-width="1.2" fill="none"/>
<text x="306" y="196.5" font-size="18" fill="#000">DR</text>
<text x="306" y="221.5" font-size="18" fill="#000">IS</text>
<text x="306" y="245.5" font-size="18" fill="#000">WIS</text>
<text x="306" y="269.5" font-size="18" fill="#000">REG</text>
<text x="306" y="294.5" font-size="18" fill="#000">DR-bsl</text>
</svg></body></html>
